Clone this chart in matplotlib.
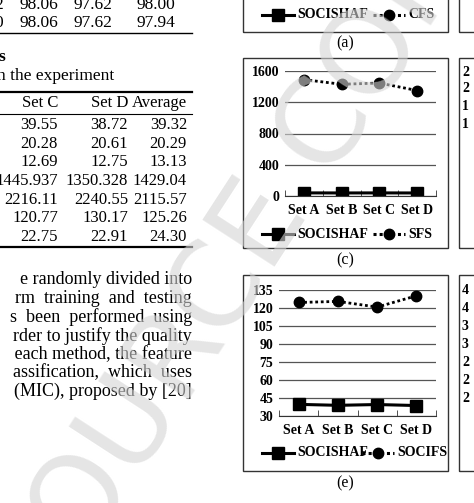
import matplotlib
matplotlib.use("Agg")
import matplotlib.pyplot as plt
from matplotlib.patches import Rectangle
from matplotlib.lines import Line2D

W, H = 474, 503

sets = ["Set A", "Set B", "Set C", "Set D"]
socishaf = [39.7, 38.9, 39.55, 38.72]
sfs = [1490, 1430, 1445.937, 1350.328]
socifs = [124.6, 125.5, 120.77, 130.17]

table_rows = [
    ["39.55", "38.72", "39.32"],
    ["20.28", "20.61", "20.29"],
    ["12.69", "12.75", "13.13"],
    ["1445.937", "1350.328", "1429.04"],
    ["2216.11", "2240.55", "2115.57"],
    ["120.77", "130.17", "125.26"],
    ["22.75", "22.91", "24.30"],
]
top_rows = [["2", "98.06", "97.62", "98.00"], ["0", "98.06", "97.62", "97.94"]]
para = [
    "e randomly divided into",
    "rm  training  and  testing",
    "s  been  performed  using",
    "rder to justify the quality",
    " each method, the feature",
    "assification,  which  uses",
    "(MIC), proposed by [20]",
]

fig = plt.figure(figsize=(W / 100, H / 100), dpi=100)
fig.patch.set_facecolor("white")
SERIF = "Liberation Serif"


def fx(px):
    return px / W


def fy(py):
    return 1 - py / H


def hline(x0, x1, y, lw):
    fig.add_artist(Line2D([fx(x0), fx(x1)], [fy(y), fy(y)], color="black", lw=lw))


def txt(x, y, s, ha="left", size=12, **kw):
    fig.text(fx(x), fy(y), s, ha=ha, va="center", fontsize=size, family=SERIF, **kw)


def legend_item(x, y, name, marker, ls, ms):
    fig.add_artist(Line2D([fx(x), fx(x + 16), fx(x + 32)], [fy(y)] * 3, color="black",
                          lw=2.2, ls=ls, marker=marker, ms=ms, markevery=[1]))
    txt(x + 35, y, name, size=10, weight="bold")


# left column: table fragments and paragraph
for i, row in enumerate(top_rows):
    y = 5 + i * 18
    txt(3, y, row[0], ha="right", size=12.5)
    for x, s in zip([58, 112, 175], row[1:]):
        txt(x, y, s, ha="right", size=12.5)
hline(0, 192, 33, 1.0)
txt(-2, 57, "s", weight="bold", size=12.5)
txt(-3, 76, "n the experiment", size=12.5)
hline(0, 192, 92, 1.6)
for x, s in zip([58, 128, 187], ["Set C", "Set D", "Average"]):
    txt(x, 103, s, ha="right")
hline(0, 192, 114, 0.8)
for i, row in enumerate(table_rows):
    y = 125 + i * 18.7
    for x, s in zip([58, 128, 187], row):
        txt(x, y, s, ha="right")
hline(0, 192, 247, 1.6)
for i, s in enumerate(para):
    y = 280 + i * 18.6
    txt(192, y, s, ha="right", size=13)


def box(x0, y0, x1, y1):
    fig.add_artist(Rectangle((fx(x0), fy(y1)), fx(x1) - fx(x0), fy(y0) - fy(y1),
                             fill=False, edgecolor="#333333", lw=1.0))


def panel(x0, y0, x1, y1, ylim, ticks, top, name, leg_y, caption_y, caption, lx2):
    ax = fig.add_axes([fx(x0), fy(y1), fx(x1) - fx(x0), fy(y0) - fy(y1)])
    ax.plot(sets, socishaf, color="black", lw=2.2, marker="s", ms=8)
    ax.plot(sets, top, color="black", lw=2.0, ls=(0, (1, 1)), marker="o", ms=7.5)
    ax.set_ylim(*ylim)
    ax.set_xlim(-0.5, 3.5)
    ax.set_yticks(ticks)
    ax.yaxis.grid(True, color="#555555", lw=0.9)
    ax.set_axisbelow(True)
    for side in ["top", "right", "left"]:
        ax.spines[side].set_visible(False)
    ax.spines["bottom"].set_color("#333333")
    ax.tick_params(axis="y", length=0, pad=4)
    ax.tick_params(axis="x", length=0, pad=6)
    ax.set_xticks([-0.5, 0.5, 1.5, 2.5, 3.5], minor=True)
    ax.tick_params(axis="x", which="minor", length=4, direction="in", color="#333333")
    for lab in ax.get_yticklabels() + ax.get_xticklabels():
        lab.set_fontfamily(SERIF)
        lab.set_fontweight("bold")
        lab.set_fontsize(10)
    ax.patch.set_alpha(0)
    legend_item(262, leg_y, "SOCISHAF", "s", "-", 8)
    legend_item(lx2, leg_y, name, "o", (0, (1, 1)), 7.5)
    txt(345, caption_y, caption, ha="center", size=11.5)


# top panel (a) bottom fragment
box(243, -5, 448, 32)
legend_item(262, 15, "SOCISHAF", "s", "-", 8)
legend_item(373, 15, "CFS", "o", (0, (1, 1)), 7.5)
txt(345, 43, "(a)", ha="center", size=11.5)
box(459, -5, 480, 32)

# panel (c)
box(243, 58, 448, 248)
panel(285, 71, 436, 196, (0, 1600), [0, 400, 800, 1200, 1600], sfs, "SFS",
      234, 260, "(c)", 373)
box(459, 58, 480, 248)
for y, s in zip([72, 89, 106, 124], ["2", "2", "1", "1"]):
    txt(462, y, s, size=10, weight="bold")

# panel (e)
box(243, 275, 448, 471)
panel(279, 290, 436, 416, (30, 135), [30, 45, 60, 75, 90, 105, 120, 135], socifs, "SOCIFS",
      453, 483, "(e)", 362)
box(459, 275, 480, 471)
for y, s in zip([290, 308, 326, 344, 362, 380, 398], ["4", "4", "3", "3", "2", "2", "2"]):
    txt(462, y, s, size=10, weight="bold")

# watermark
fig.text(0.52, 0.5, "SOURCE COPY", rotation=57, ha="center", va="center", fontsize=85,
         family="DejaVu Sans", color="#d4d4d4", alpha=0.6, zorder=10)

fig.savefig("out.png", dpi=100)
